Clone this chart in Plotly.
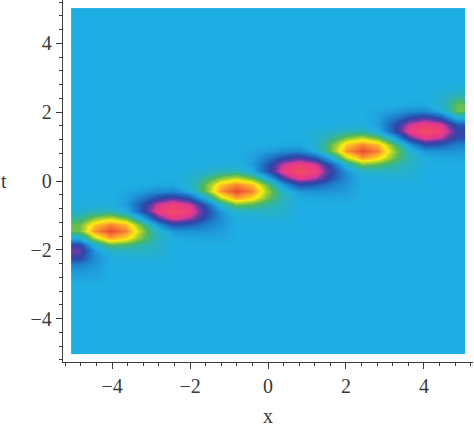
import plotly.graph_objects as go

# Field values, in hundredths. Rows run from high t to low t.
z_band = [
    [0,0,0,0,0, 0,0,0,0,0, 0,0,0,0,0, 0,0,0,0,0, 0,0,0,0,1],
    [0,0,0,0,0, 0,0,0,0,0, 0,0,0,0,0, 0,0,0,0,0, 0,0,0,3,8],
    [0,0,0,0,0, 0,0,0,0,0, 0,0,0,0,0, 0,0,0,0,0, 0,0,0,6,24],
    [0,0,0,0,0, 0,0,0,0,0, 0,0,0,0,0, 0,0,0,0,0, -1,-2,-3,8,41],
    [0,0,0,0,0, 0,0,0,0,0, 0,0,0,0,0, 0,0,0,0,-3, -8,-16,-18,0,41],
    [0,0,0,0,0, 0,0,0,0,0, 0,0,0,0,0, 0,0,0,0,-6, -24,-44,-55,-39,4],
    [0,0,0,0,0, 0,0,0,0,0, 0,0,0,0,0, 0,1,2,3,-8, -41,-76,-90,-79,-38],
    [0,0,0,0,0, 0,0,0,0,0, 0,0,0,0,0, 3,8,16,18,0, -41,-87,-100,-90,-49],
    [0,0,0,0,0, 0,0,0,0,0, 0,0,0,0,0, 6,24,44,55,39, -4,-57,-85,-72,-42],
    [0,0,0,0,0, 0,0,0,0,0, 0,0,-1,-2,-3, 8,41,76,90,79, 38,-10,-42,-36,-22],
    [0,0,0,0,0, 0,0,0,0,0, 0,-3,-8,-16,-18, 0,41,87,100,90, 49,11,-10,-12,-12],
    [0,0,0,0,0, 0,0,0,0,0, 0,-6,-24,-44,-55, -39,4,57,85,72, 42,15,-1,-3,-4],
    [0,0,0,0,0, 0,0,0,1,2, 3,-8,-41,-76,-90, -79,-38,10,42,36, 22,12,0,0,0],
    [0,0,0,0,0, 0,0,3,8,16, 18,0,-41,-87,-100, -90,-49,-11,10,12, 12,8,0,0,0],
    [0,0,0,0,0, 0,0,6,24,44, 55,39,-4,-57,-85, -72,-42,-15,1,3, 4,4,0,0,0],
    [0,0,0,0,-1, -2,-3,8,41,76, 90,79,38,-10,-42, -36,-22,-12,0,0, 0,0,0,0,0],
    [0,0,0,-3,-8, -16,-18,0,41,87, 100,90,49,11,-10, -12,-12,-8,0,0, 0,0,0,0,0],
    [0,0,0,-6,-24, -44,-55,-39,4,57, 85,72,42,15,-1, -3,-4,-4,0,0, 0,0,0,0,0],
    [1,2,3,-8,-41, -76,-90,-79,-38,10, 42,36,22,12,0, 0,0,0,0,0, 0,0,0,0,0],
    [8,16,18,0,-41, -87,-100,-90,-49,-11, 10,12,12,8,0, 0,0,0,0,0, 0,0,0,0,0],
    [24,44,55,39,-4, -57,-85,-72,-42,-15, 1,3,4,4,0, 0,0,0,0,0, 0,0,0,0,0],
    [41,76,90,79,38, -10,-42,-36,-22,-12, 0,0,0,0,0, 0,0,0,0,0, 0,0,0,0,0],
    [41,87,100,90,49, 11,-10,-12,-12,-8, 0,0,0,0,0, 0,0,0,0,0, 0,0,0,0,0],
    [4,57,85,72,42, 15,-1,-3,-4,-4, 0,0,0,0,0, 0,0,0,0,0, 0,0,0,0,0],
    [-45,10,42,36,22, 12,0,0,0,0, 0,0,0,0,0, 0,0,0,0,0, 0,0,0,0,0],
    [-60,-11,10,12,12, 8,0,0,0,0, 0,0,0,0,0, 0,0,0,0,0, 0,0,0,0,0],
    [-48,-15,1,3,4, 4,0,0,0,0, 0,0,0,0,0, 0,0,0,0,0, 0,0,0,0,0],
    [-22,-12,0,0,0, 0,0,0,0,0, 0,0,0,0,0, 0,0,0,0,0, 0,0,0,0,0],
    [-12,-8,0,0,0, 0,0,0,0,0, 0,0,0,0,0, 0,0,0,0,0, 0,0,0,0,0],
    [-4,-4,0,0,0, 0,0,0,0,0, 0,0,0,0,0, 0,0,0,0,0, 0,0,0,0,0],
]
flat_row = [0] * 25
rows_above = 11
rows_below = 11
tick_values = [-4, -2, 0, 2, 4]
tick_labels = ["\u22124", "\u22122", "0", "2", "4"]

colors = [
    [0.00, "#F04A60"], [0.07, "#EE3C80"], [0.13, "#D03A9A"], [0.19, "#6E3CA4"], [0.27, "#2C46A8"],
    [0.38, "#1E7CCB"], [0.50, "#1FAEE3"], [0.60, "#2FB4B0"], [0.68, "#4CB860"],
    [0.76, "#A8D030"], [0.83, "#FFEE10"], [0.92, "#FBA030"], [1.00, "#EF4A30"],
]

z = [flat_row] * rows_below + z_band[::-1] + [flat_row] * rows_above
ink = "#3a3a3a"
font = dict(family="Liberation Serif", size=20, color=ink)

fig = go.Figure(go.Heatmap(
    z=z, x0=-4.85, dx=0.404, y0=-4.93, dy=0.1933,
    zmin=-100, zmax=100, colorscale=colors, showscale=False, zsmooth="best",
))
axis = dict(
    range=[-5.26, 5.26], tickmode="array", tickvals=tick_values, ticktext=tick_labels,
    ticks="outside", ticklen=6, tickwidth=1.3, tickcolor=ink,
    showline=True, linecolor=ink, linewidth=1.3, showgrid=False, zeroline=False,
    tickfont=font,
    minor=dict(ticks="outside", ticklen=3, tickwidth=1.2, tickcolor=ink,
               tick0=0, dtick=0.4, showgrid=False),
)
fig.update_layout(
    width=474, height=432, autosize=False,
    margin=dict(l=63, r=1, t=0, b=70),
    paper_bgcolor="white", plot_bgcolor="white",
    xaxis=dict(axis, title=dict(text="x", font=font, standoff=12)),
    yaxis=dict(axis),
    annotations=[dict(text="t", xref="paper", yref="paper", x=-0.143, y=0.5,
                      showarrow=False, font=font, xanchor="center", yanchor="middle")],
)
fig.write_html("out.html", post_script="document.body.style.margin='0';",
               config=dict(displayModeBar=False))
